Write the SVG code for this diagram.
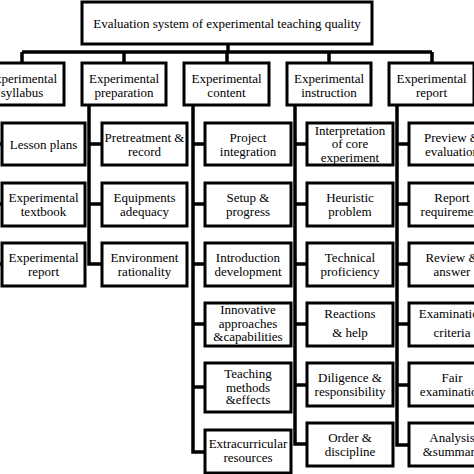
<svg xmlns="http://www.w3.org/2000/svg" width="474" height="474" viewBox="0 0 474 474">
<style>
rect{fill:#fff;stroke:#000;stroke-width:3}
text{font-family:"Liberation Serif","Times New Roman",serif;font-size:13px;fill:#000;text-anchor:middle}
.c{fill:none;stroke:#000;stroke-width:3.5;stroke-linejoin:miter}
</style>
<rect x="0" y="0" width="474" height="474" style="stroke:none"/>
<g id="connectors" class="c">
<path d="M228 44V52M22 52H432M22 52V63M124 52V63M227 52V63M329 52V63M432 52V63"/>
<path d="M-13 105V264H2M-13 144H2M-13 204H2"/>
<path d="M89 105V264H102M89 144H102M89 204H102"/>
<path d="M193 105V452H205M193 144H205M193 204H205M193 264H205M193 324H205M193 387H205"/>
<path d="M295 105V444H307M295 144H307M295 204H307M295 264H307M295 324H307M295 385H307"/>
<path d="M397 105V445H409M397 144H409M397 204H409M397 264H409M397 324H409M397 385H409"/>
</g>
<g id="root"><rect x="82" y="2" width="290" height="42"/><text x="227" y="28">Evaluation system of experimental teaching quality</text></g>
<g id="syllabus"><rect x="-20" y="63" width="84" height="42"/><text x="22" y="83">Experimental</text><text x="22" y="97">syllabus</text></g>
<g id="preparation"><rect x="82" y="63" width="84" height="42"/><text x="124" y="83">Experimental</text><text x="124" y="97">preparation</text></g>
<g id="content"><rect x="184" y="63" width="85" height="42"/><text x="226.5" y="83">Experimental</text><text x="226.5" y="97">content</text></g>
<g id="instruction"><rect x="287" y="63" width="84" height="42"/><text x="329" y="83">Experimental</text><text x="329" y="97">instruction</text></g>
<g id="report"><rect x="389" y="63" width="85" height="42"/><text x="431.5" y="83">Experimental</text><text x="431.5" y="97">report</text></g>

<g id="lesson-plans"><rect x="2" y="123" width="83" height="42"/><text x="43.5" y="148.5">Lesson plans</text></g>
<g id="textbook"><rect x="2" y="183" width="83" height="43"/><text x="43.5" y="202">Experimental</text><text x="43.5" y="216">textbook</text></g>
<g id="exp-report"><rect x="2" y="243" width="83" height="43"/><text x="43.5" y="262">Experimental</text><text x="43.5" y="276">report</text></g>

<g id="pretreatment"><rect x="102" y="123" width="85" height="42"/><text x="144.5" y="141.5">Pretreatment &amp;</text><text x="144.5" y="155.5">record</text></g>
<g id="equipments"><rect x="102" y="183" width="85" height="43"/><text x="144.5" y="202">Equipments</text><text x="144.5" y="216">adequacy</text></g>
<g id="environment"><rect x="102" y="243" width="85" height="43"/><text x="144.5" y="262">Environment</text><text x="144.5" y="276">rationality</text></g>

<g id="project"><rect x="205" y="123" width="86" height="42"/><text x="248" y="141.5">Project</text><text x="248" y="155.5">integration</text></g>
<g id="setup"><rect x="205" y="183" width="86" height="43"/><text x="248" y="202">Setup &amp;</text><text x="248" y="216">progress</text></g>
<g id="introduction"><rect x="205" y="243" width="86" height="43"/><text x="248" y="262">Introduction</text><text x="248" y="276">development</text></g>
<g id="innovative"><rect x="205" y="303" width="86" height="43"/><text x="248" y="314">Innovative</text><text x="248" y="328">approaches</text><text x="248" y="341">&amp;capabilities</text></g>
<g id="teaching"><rect x="205" y="363" width="86" height="49"/><text x="248" y="378">Teaching</text><text x="248" y="391.5">methods</text><text x="248" y="404">&amp;effects</text></g>
<g id="extracurricular"><rect x="205" y="430" width="86" height="43"/><text x="248" y="448">Extracurricular</text><text x="248" y="462">resources</text></g>

<g id="interpretation"><rect x="307" y="123" width="86" height="42"/><text x="350" y="134.5">Interpretation</text><text x="350" y="148">of core</text><text x="350" y="161.5">experiment</text></g>
<g id="heuristic"><rect x="307" y="183" width="86" height="43"/><text x="350" y="202">Heuristic</text><text x="350" y="216">problem</text></g>
<g id="technical"><rect x="307" y="243" width="86" height="43"/><text x="350" y="262">Technical</text><text x="350" y="276">proficiency</text></g>
<g id="reactions"><rect x="307" y="303" width="86" height="43"/><text x="350" y="318">Reactions</text><text x="350" y="337">&amp; help</text></g>
<g id="diligence"><rect x="307" y="363" width="86" height="43"/><text x="350" y="382">Diligence &amp;</text><text x="350" y="396">responsibility</text></g>
<g id="order"><rect x="307" y="423" width="86" height="43"/><text x="350" y="442">Order &amp;</text><text x="350" y="456">discipline</text></g>

<g id="preview"><rect x="409" y="123" width="86" height="42"/><text x="452" y="141.5">Preview &amp;</text><text x="452" y="155.5">evaluation</text></g>
<g id="requirement"><rect x="409" y="183" width="86" height="43"/><text x="452" y="202">Report</text><text x="452" y="216">requirement</text></g>
<g id="review"><rect x="409" y="243" width="86" height="43"/><text x="452" y="262">Review &amp;</text><text x="452" y="276">answer</text></g>
<g id="examination"><rect x="409" y="303" width="86" height="43"/><text x="452" y="318">Examination</text><text x="452" y="337">criteria</text></g>
<g id="fair"><rect x="409" y="363" width="86" height="43"/><text x="452" y="382">Fair</text><text x="452" y="396">examination</text></g>
<g id="analysis"><rect x="409" y="423" width="86" height="43"/><text x="452" y="442">Analysis</text><text x="452" y="456">&amp;summary</text></g>
</svg>
